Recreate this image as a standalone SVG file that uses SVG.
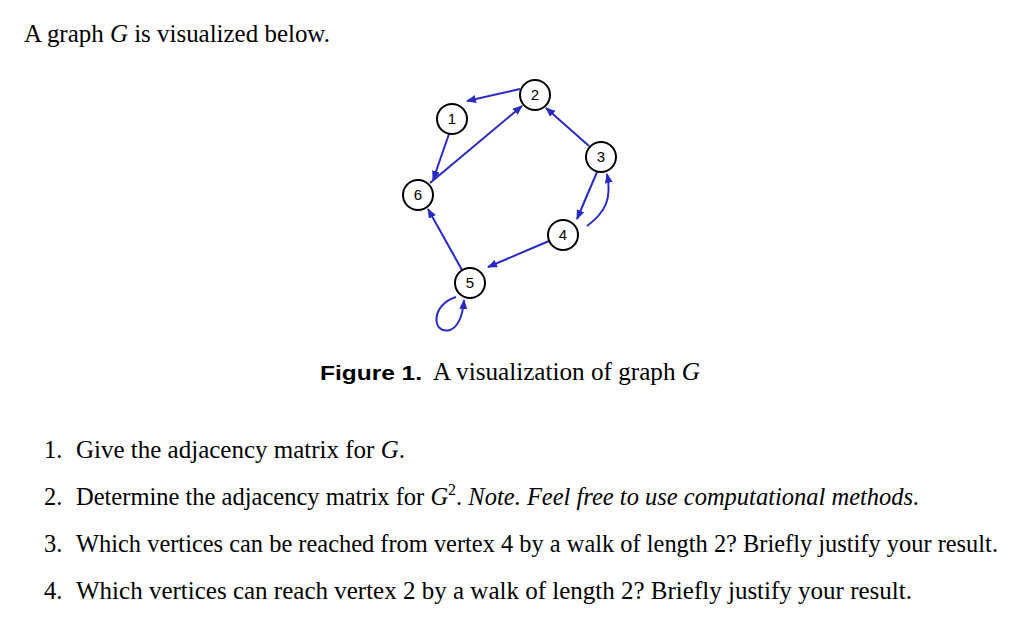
<svg xmlns="http://www.w3.org/2000/svg" width="1024" height="632" viewBox="0 0 1024 632">
<style>
.t{font-family:"Liberation Serif",serif;font-size:24.5px;fill:#000}
.n circle{fill:#fff;stroke:#000;stroke-width:2}
.n text{font-family:"Liberation Sans",sans-serif;font-size:15px;text-anchor:middle}
.e path{fill:none;stroke:#2a2ac0;stroke-width:2;marker-end:url(#a)}
</style>
<defs><marker id="a" markerWidth="10" markerHeight="8" refX="9" refY="4" orient="auto" markerUnits="userSpaceOnUse"><path d="M0,0 L10,4 L0,8 Z" fill="#2a2ac0"/></marker></defs>
<rect width="1024" height="632" fill="#fff"/>
<text class="t" x="24" y="42" textLength="306" lengthAdjust="spacingAndGlyphs">A graph <tspan font-style="italic">G</tspan> is visualized below.</text>
<g class="e">
<path d="M520,89 L467,101"/>
<path d="M449,134 L433,180"/>
<path d="M430,183 L522,106"/>
<path d="M589,146 L546,108"/>
<path d="M597,172 L577,219"/>
<path d="M587,226 C606,212 612,198 607,174"/>
<path d="M549,241 L488,267"/>
<path d="M462,270 L428,209"/>
<path d="M456,297 C430,305 432,335 450,330 C460,326 463,312 464,300"/>
</g>
<g id="n1" class="n"><circle cx="452" cy="119" r="15"/><text x="452" y="124">1</text></g>
<g id="n2" class="n"><circle cx="535" cy="95" r="15"/><text x="535" y="100">2</text></g>
<g id="n3" class="n"><circle cx="601" cy="157" r="15"/><text x="601" y="162">3</text></g>
<g id="n4" class="n"><circle cx="563" cy="235" r="15"/><text x="563" y="240">4</text></g>
<g id="n5" class="n"><circle cx="470" cy="283" r="15"/><text x="470" y="288">5</text></g>
<g id="n6" class="n"><circle cx="418" cy="195" r="15"/><text x="418" y="200">6</text></g>
<text x="320" y="380" textLength="102" lengthAdjust="spacingAndGlyphs" style="font-family:'Liberation Sans',sans-serif;font-weight:bold;font-size:21px">Figure 1.</text>
<text class="t" x="433" y="380" textLength="267" lengthAdjust="spacingAndGlyphs">A visualization of graph <tspan font-style="italic">G</tspan></text>
<text class="t" x="44" y="458">1.</text>
<text class="t" x="44" y="505">2.</text>
<text class="t" x="44" y="552">3.</text>
<text class="t" x="44" y="599">4.</text>
<text class="t" x="76" y="458" textLength="329" lengthAdjust="spacingAndGlyphs">Give the adjacency matrix for <tspan font-style="italic">G</tspan>.</text>
<text class="t" x="76" y="505">Determine the adjacency matrix for <tspan font-style="italic">G</tspan><tspan font-size="16" dy="-10">2</tspan><tspan dy="10">. </tspan><tspan font-style="italic">Note. Feel free to use computational methods.</tspan></text>
<text class="t" x="76" y="552" textLength="922" lengthAdjust="spacingAndGlyphs">Which vertices can be reached from vertex 4 by a walk of length 2? Briefly justify your result.</text>
<text class="t" x="76" y="599" textLength="836" lengthAdjust="spacingAndGlyphs">Which vertices can reach vertex 2 by a walk of length 2? Briefly justify your result.</text>
</svg>
